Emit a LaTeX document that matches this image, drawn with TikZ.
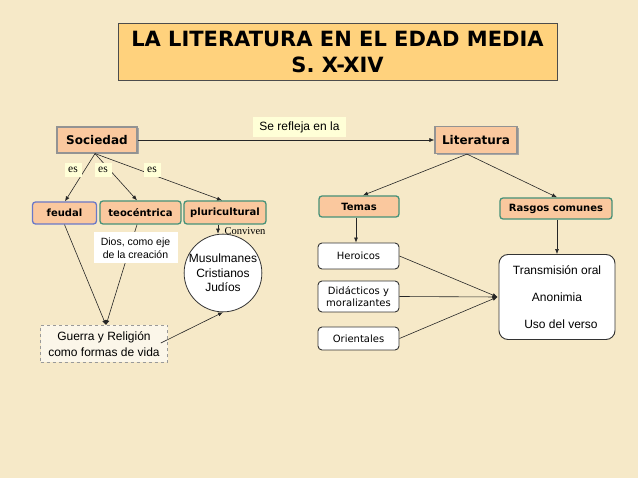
\documentclass[tikz,border=0pt]{standalone}
\usepackage{fontspec}
\setmainfont{Liberation Sans}
\newfontfamily\verd{DejaVu Sans}
\newfontfamily\tms{Liberation Serif}
\usetikzlibrary{arrows.meta,shadows}
\definecolor{bgc}{RGB}{246,233,200}
\definecolor{titc}{RGB}{255,210,125}
\definecolor{peach}{RGB}{250,200,158}
\definecolor{lblc}{RGB}{255,255,215}
\definecolor{bluebd}{RGB}{105,120,200}
\definecolor{greenbd}{RGB}{70,145,120}
\begin{document}
\begin{tikzpicture}[x=1pt,y=-1pt,
  >={Latex[length=5pt,width=4pt]},
  conn/.style={draw=black!85,line width=0.6pt},
  titlebox/.style={draw=black!70,fill=titc,line width=0.8pt,inner sep=0pt,align=center,
    font=\verd\bfseries\fontsize{21}{26}\selectfont},
  mainbox/.style={draw=gray!85,fill=peach,line width=1.2pt,inner sep=0pt,
    drop shadow={shadow xshift=1.5pt,shadow yshift=-1.5pt,fill=gray!70,opacity=1},
    font=\verd\bfseries\fontsize{12}{14}\selectfont},
  catbox/.style={fill=peach,rounded corners=3pt,line width=1.3pt,inner sep=0pt,
    font=\verd\bfseries\fontsize{10}{12}\selectfont},
  whitebox/.style={draw=black!80,fill=white,rounded corners=4pt,line width=0.9pt,inner sep=0pt,
    align=center,font=\verd\fontsize{10}{12.5}\selectfont},
  lbl/.style={fill=lblc,inner sep=1.5pt},
  eslbl/.style={fill=lblc,inner sep=0pt,minimum width=17pt,minimum height=14pt,
    font=\tms\fontsize{11.5}{12}\selectfont},
]
\fill[bgc] (0,0) rectangle (638,478);
\useasboundingbox (0,0) rectangle (638,478);

% title
\node[titlebox,minimum width=439pt,minimum height=57pt] (title) at (337.5,51.5)
  {LA LITERATURA EN EL EDAD MEDIA\\S. X-XIV};

% main boxes
\node[mainbox,minimum width=80pt,minimum height=26pt] (soc) at (97,140) {Sociedad};
\node[mainbox,minimum width=82pt,minimum height=27pt] (lit) at (476,140) {Literatura};

\draw[conn,->] (soc.east) -- (lit.west);
\node[lbl,minimum width=93pt,minimum height=20pt,inner sep=0pt,font=\fontsize{12}{14}\selectfont]
  (ref) at (299.5,127) {Se refleja en la};

% left categories
\node[catbox,draw=bluebd,minimum width=64pt,minimum height=22pt] (feu) at (64.5,213) {feudal};
\node[catbox,draw=greenbd,minimum width=81pt,minimum height=23pt] (teo) at (140.5,212.5) {teocéntrica};
\node[catbox,draw=greenbd,minimum width=82pt,minimum height=23pt] (plu) at (225,212.5) {pluricultural};

\coordinate (sb) at ([xshift=-2pt]soc.south);
\draw[conn,->] (sb) -- ([xshift=0.5pt]feu.north);
\draw[conn,->] (sb) -- ([xshift=-3.5pt]teo.north);
\draw[conn,->] (sb) -- ([xshift=-3pt]plu.north);
\node[eslbl] (es1) at (73,170) {es};
\node[eslbl] (es2) at (103,170) {es};
\node[eslbl] (es3) at (152,170) {es};

% circle
\node[circle,draw=black!80,fill=white,line width=0.8pt,minimum size=72pt,inner sep=0pt,align=center,
  font=\fontsize{12}{14.5}\selectfont] (cir) at (223,273) {Musulmanes\\Cristianos\\Judíos};
\draw[conn,->] ([xshift=-7pt]plu.south) -- ([xshift=-7pt]plu.south |- cir.north);
\node[font=\tms\fontsize{10.5}{12}\selectfont] (conv) at (245,231) {Conviven};

% guerra
\node[draw=gray!80,dashed,fill=bgc!40!white,line width=0.7pt,minimum width=127pt,minimum height=37pt,
  inner sep=0pt,align=center,font=\fontsize{12}{15.5}\selectfont] (gue) at (104,344)
  {Guerra y Religión\\como formas de vida};
\draw[conn,->] (feu.south) -- ([xshift=2pt]gue.north);
\draw[conn,->] ([xshift=-3.5pt]teo.south) -- ([xshift=2pt]gue.north);
\draw[conn,->] ([xshift=-7pt,yshift=1pt]gue.east) -- (cir.south);
\node[fill=white,minimum width=84pt,minimum height=31pt,inner sep=0pt,align=center,
  font=\fontsize{10.5}{13}\selectfont] (dios) at (135.5,248) {Dios, como eje\\de la creación};

% right side
\node[catbox,draw=greenbd,minimum width=80pt,minimum height=21pt] (tem) at (359,206.5) {Temas};
\node[catbox,draw=greenbd,minimum width=112pt,minimum height=21pt] (ras) at (556,208.5) {Rasgos comunes};
\coordinate (lb) at ([xshift=-9pt]lit.south);
\draw[conn,->] (lb) -- ([xshift=4pt]tem.north);
\draw[conn,->] (lb) -- ([xshift=1pt]ras.north);

\node[whitebox,minimum width=81pt,minimum height=26pt] (her) at (358.5,256) {Heroicos};
\node[whitebox,minimum width=81pt,minimum height=31pt] (did) at (358.5,296.5) {Didácticos y\\moralizantes};
\node[whitebox,minimum width=81pt,minimum height=23pt] (ori) at (358.5,338.5) {Orientales};
\node[draw=black!80,fill=white,rounded corners=9pt,line width=0.9pt,minimum width=116pt,minimum height=85pt,
  inner sep=0pt,align=center,font=\fontsize{12}{27}\selectfont] (big) at (557,297)
  {Transmisión oral\\Anonimia\\\hspace*{8pt}Uso del verso};

\draw[conn,->] ([xshift=-3pt]tem.south) -- ([xshift=-3pt]tem.south |- her.north);
\draw[conn,->] ([xshift=1pt]ras.south) -- ([xshift=1pt]ras.south |- big.north);
\coordinate (cv) at ([xshift=-1pt]big.west);
\draw[conn,->] (her.east) -- (cv);
\draw[conn,->] (did.east) -- (cv);
\draw[conn,->] (ori.east) -- (cv);
\end{tikzpicture}
\end{document}
